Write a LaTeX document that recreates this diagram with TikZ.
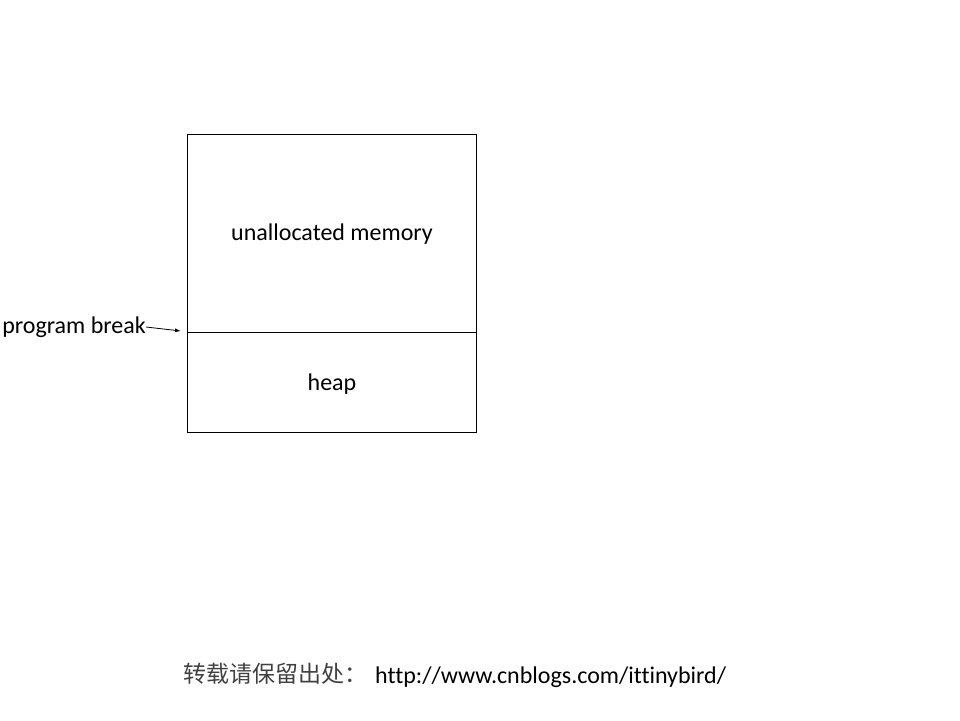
\documentclass[tikz,border=0pt]{standalone}
\usepackage{fontspec}
\setmainfont[Ligatures=NoCommon]{Carlito}
\newfontfamily\cjk{Noto Sans CJK SC}
\usetikzlibrary{arrows.meta}
\begin{document}
\begin{tikzpicture}[x=1pt,y=-1pt,
  lbl/.style={inner sep=0pt,font=\fontsize{24}{28}\selectfont},
  box/.style={draw,line width=1pt}]
\useasboundingbox (0,0) rectangle (960,720);
\node[box,minimum width=289pt,minimum height=198pt,anchor=north west] (um) at (187,134) {};
\node[box,minimum width=289pt,minimum height=100pt,anchor=north west] (hp) at (187,332) {};
\node[lbl] (umt) at (332,234) {unallocated memory};
\node[lbl] (hpt) at (332,384) {heap};
\node[lbl,anchor=east] (pb) at (146,327) {program break};
\coordinate (tip) at (181,331);
\draw[-{Latex[length=6pt,width=4pt]},line width=0.8pt] (pb.east) -- (tip);
\node[inner sep=0pt,anchor=west,text=black!75,font=\cjk\fontsize{23}{26}\selectfont] (cn) at (183,674) {转载请保留出处：};
\node[lbl,anchor=base west] (url) at (375,683) {http://www.cnblogs.com/ittinybird/};
\end{tikzpicture}
\end{document}
